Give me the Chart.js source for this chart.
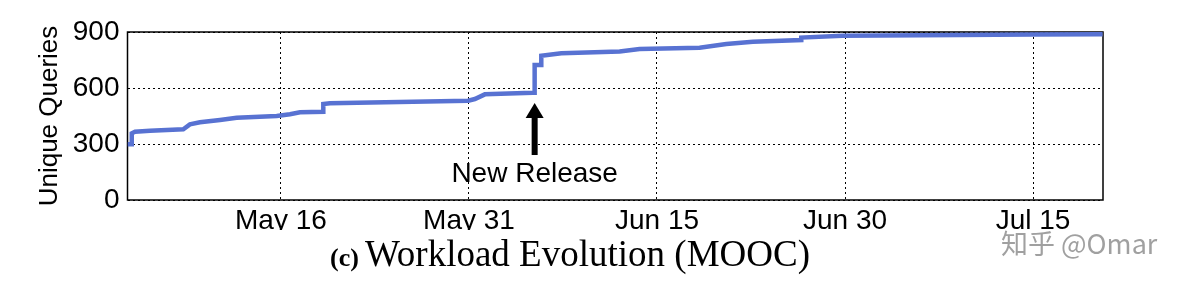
<!DOCTYPE html>
<html>
<head>
<meta charset="utf-8">
<script src="https://cdn.jsdelivr.net/npm/chart.js@4/dist/chart.umd.min.js"></script>
<style>
  html, body { margin: 0; padding: 0; background: #fff; }
  #wrap { width: 1186px; height: 288px; }
</style>
</head>
<body>
<div id="wrap"><canvas id="c" width="1186" height="288"></canvas></div>
<script>
// Days since May 1 (x) and cumulative unique queries (y)
const days = [2.76, 3.10, 3.10, 3.36, 4.56, 7.21, 7.74, 8.54, 10.14, 11.47, 14.66, 15.72, 16.52, 18.38, 18.38, 18.91, 29.94, 30.47, 31.27, 35.10, 35.24, 35.24, 35.77, 35.77, 37.37, 42.02, 43.61, 48.40, 50.53, 52.65, 56.51, 56.51, 59.80, 69.10, 74.97, 80.55];
const uniqueQueries = [298, 298, 357, 366, 371, 379, 405, 416, 429, 441, 450, 459, 470, 473, 514, 518, 532, 541, 566, 575, 575, 723, 723, 773, 786, 795, 809, 816, 836, 848, 857, 870, 880, 884, 887, 888];
const tickDays = [15, 30, 45, 60, 75];
const tickLabels = ['May 16', 'May 31', 'Jun 15', 'Jun 30', 'Jul 15'];
const yTicks = [0, 300, 600, 900];
const releaseDay = 35.24;
const releaseLabel = 'New Release';
const caption = 'Workload Evolution (MOOC)';
const captionTag = '(c)';
const watermark = '知乎 @Omar';

const points = days.map((d, i) => ({ x: d, y: uniqueQueries[i] }));

const decor = {
  id: 'decor',
  beforeDatasetsDraw(chart) {
    const { ctx, chartArea: a } = chart;
    ctx.save();
    ctx.setLineDash([]);
    ctx.strokeStyle = '#000';
    ctx.lineWidth = 1.5;
    ctx.strokeRect(a.left, a.top, a.right - a.left, a.bottom - a.top);
    ctx.restore();
  },
  afterDatasetsDraw(chart) {
    const { ctx, scales } = chart;
    const x = scales.x.getPixelForValue(releaseDay);
    const tipY = scales.y.getPixelForValue(519);
    const baseY = scales.y.getPixelForValue(241);
    ctx.save();
    ctx.fillStyle = '#000';
    ctx.fillRect(x - 3, tipY + 12, 6, baseY - tipY - 12);
    ctx.beginPath();
    ctx.moveTo(x, tipY);
    ctx.lineTo(x - 9, tipY + 15);
    ctx.lineTo(x + 9, tipY + 15);
    ctx.closePath();
    ctx.fill();
    ctx.font = '28px "Liberation Sans", Arial, sans-serif';
    ctx.textAlign = 'center';
    ctx.textBaseline = 'alphabetic';
    ctx.fillText(releaseLabel, x, scales.y.getPixelForValue(96));
    ctx.restore();
  },
  afterDraw(chart) {
    const { ctx } = chart;
    ctx.save();
    ctx.fillStyle = '#000';
    ctx.textBaseline = 'alphabetic';
    ctx.textAlign = 'left';
    ctx.font = 'bold 26px "Liberation Serif", serif';
    const tagW = ctx.measureText(captionTag).width;
    ctx.font = '37px "Liberation Serif", serif';
    const capW = ctx.measureText(caption).width;
    const total = tagW + 6 + capW;
    const startX = 570 - total / 2;
    ctx.font = 'bold 26px "Liberation Serif", serif';
    ctx.fillText(captionTag, startX, 266);
    ctx.font = '37px "Liberation Serif", serif';
    ctx.fillText(caption, startX + tagW + 6, 266);
    // watermark
    ctx.font = '27px "Noto Sans CJK SC", sans-serif';
    ctx.fillStyle = 'rgba(150,150,150,0.9)';
    ctx.fillText(watermark, 1001, 254);
    ctx.restore();
  }
};

new Chart(document.getElementById('c'), {
  type: 'line',
  data: {
    datasets: [{
      data: points,
      borderColor: '#5872D2',
      borderWidth: 4.5,
      pointRadius: 0,
      tension: 0,
      fill: false
    }]
  },
  options: {
    responsive: false,
    animation: false,
    layout: { padding: { top: 32, right: 83, bottom: 58, left: 0 } },
    plugins: { legend: { display: false }, tooltip: { enabled: false } },
    scales: {
      x: {
        type: 'linear',
        min: 2.76,
        max: 80.58,
        afterBuildTicks(scale) { scale.ticks = tickDays.map(v => ({ value: v })); },
        afterFit(scale) { scale.height = 30; },
        ticks: {
          autoSkip: false,
          maxRotation: 0,
          padding: 4,
          color: '#000',
          font: { family: '"Liberation Sans", Arial, sans-serif', size: 28 },
          callback(v) { const i = tickDays.indexOf(v); return i >= 0 ? tickLabels[i] : ''; }
        },
        grid: { color: '#000', lineWidth: 1, drawTicks: false },
        border: { display: false, dash: [2, 3] }
      },
      y: {
        min: 0,
        max: 900,
        afterBuildTicks(scale) { scale.ticks = yTicks.map(v => ({ value: v })); },
        afterFit(scale) { scale.width = 127.5; },
        ticks: {
          padding: 8,
          color: '#000',
          font: { family: '"Liberation Sans", Arial, sans-serif', size: 28 }
        },
        title: {
          display: true,
          text: 'Unique Queries',
          color: '#000',
          font: { family: '"Liberation Sans", Arial, sans-serif', size: 26 },
          padding: { top: 34, bottom: 0 }
        },
        grid: { color: '#000', lineWidth: 1, drawTicks: false },
        border: { display: false, dash: [2, 3] }
      }
    }
  },
  plugins: [decor]
});
</script>
</body>
</html>
